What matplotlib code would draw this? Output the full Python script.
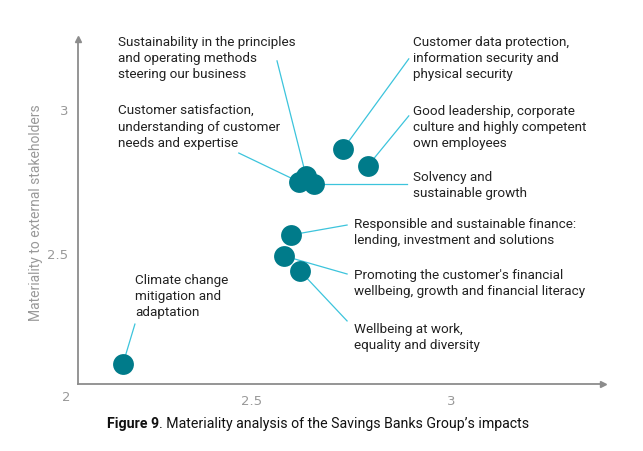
import matplotlib
matplotlib.use("Agg")
import matplotlib.pyplot as plt

# impact topics: label, x (materiality to business), y (materiality to external stakeholders)
labels = [
    "Climate change\nmitigation and\nadaptation",
    "Customer satisfaction,\nunderstanding of customer\nneeds and expertise",
    "Sustainability in the principles\nand operating methods\nsteering our business",
    "Solvency and\nsustainable growth",
    "Customer data protection,\ninformation security and\nphysical security",
    "Good leadership, corporate\nculture and highly competent\nown employees",
    "Responsible and sustainable finance:\nlending, investment and solutions",
    "Promoting the customer's financial\nwellbeing, growth and financial literacy",
    "Wellbeing at work,\nequality and diversity",
]
x_vals = [2.176, 2.618, 2.636, 2.656, 2.729, 2.791, 2.598, 2.580, 2.621]
y_vals = [2.115, 2.747, 2.767, 2.740, 2.861, 2.802, 2.5625, 2.490, 2.4375]

# label anchor (top-left of text) and end of leader line, in data units
text_pos = [(2.206, 2.431), (2.163, 3.017), (2.163, 3.257),
            (2.905, 2.788), (2.905, 3.257), (2.905, 3.017),
            (2.756, 2.625), (2.756, 2.448), (2.756, 2.260)]
line_end = [(2.206, 2.253), (2.467, 2.847), (2.563, 3.167),
            (2.889, 2.740), (2.894, 3.174), (2.894, 2.976),
            (2.739, 2.597), (2.739, 2.427), (2.739, 2.264)]

dot_col = "#007b8a"
line_col = "#3cc4dc"
grey = "#8c8c8c"

fig = plt.figure(figsize=(6.43, 4.52), dpi=100)
ax = fig.add_axes([78/643, 1-385/452, (603-78)/643, (385-40)/452])
ax.set_xlim(2.063, 3.382)
ax.set_ylim(2.045, 3.243)

for i in range(len(labels)):
    ex, ey = line_end[i]
    ax.plot([x_vals[i], ex], [y_vals[i], ey], color=line_col, lw=0.9, zorder=1, clip_on=False)
    tx, ty = text_pos[i]
    ax.text(tx, ty, labels[i], fontsize=9.7, color="#222222", va="top", ha="left",
            linespacing=1.32, family="Roboto", clip_on=False)

ax.scatter(x_vals, y_vals, s=225, color=dot_col, zorder=3, linewidths=0, clip_on=False)

for s in ["top", "right"]:
    ax.spines[s].set_visible(False)
for s in ["left", "bottom"]:
    ax.spines[s].set_color(grey)
    ax.spines[s].set_linewidth(1.3)
ax.plot(1, 0, ">", color=grey, ms=5, transform=ax.transAxes, clip_on=False)
ax.plot(0, 1, "^", color=grey, ms=5, transform=ax.transAxes, clip_on=False)

ax.set_xticks([2.5, 3])
ax.set_xticklabels(["2.5", "3"])
ax.set_yticks([2.5, 3])
ax.set_yticklabels(["2.5", "3"])
ax.tick_params(length=0, labelsize=9.5, labelcolor="#999999", pad=7)
fig.text(66/643, 1-398/452, "2", fontsize=9.5, color="#999999", ha="center", va="center")

ax.set_ylabel("Materiality to external stakeholders", fontsize=10, color="#999999",
              family="Roboto", labelpad=3)

# caption: bold part then regular part
renderer = fig.canvas.get_renderer()
t1 = fig.text(107/643, 1-424/452, "Figure 9", fontsize=10.2, fontweight="bold",
              va="center", ha="left", family="Roboto", color="#111111")
bb = t1.get_window_extent(renderer)
fig.text(bb.x1/643, 1-424/452, ". Materiality analysis of the Savings Banks Group\u2019s impacts",
         fontsize=10.2, va="center", ha="left", family="Roboto", color="#111111")

fig.savefig("out.png", dpi=100)
